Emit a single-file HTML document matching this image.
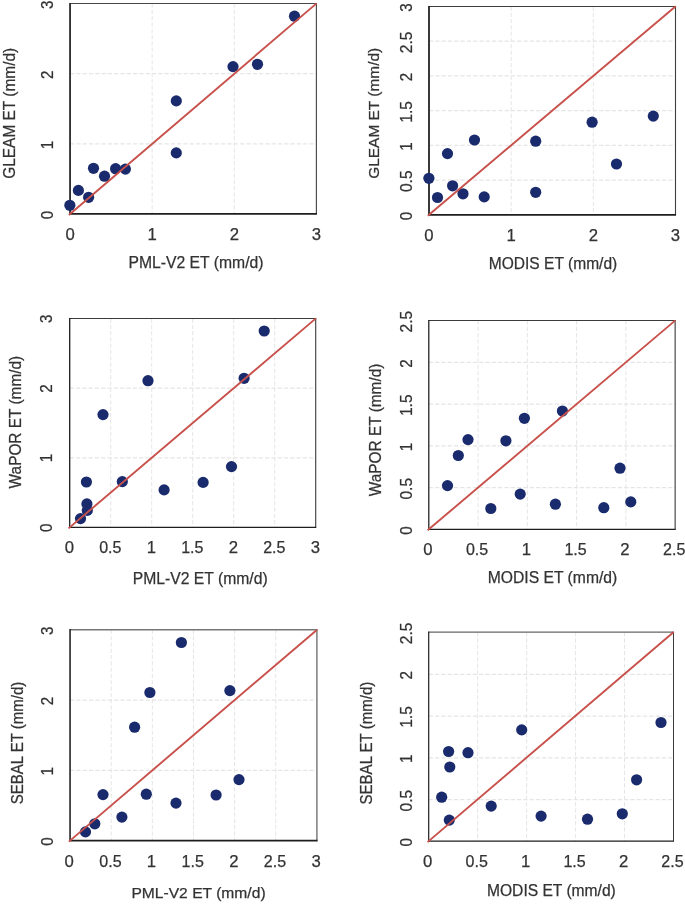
<!DOCTYPE html>
<html lang="en"><head><meta charset="utf-8"><title>ET scatter comparison</title>
<style>
html,body{margin:0;padding:0;background:#fff}
body{width:685px;height:905px;overflow:hidden}
svg{display:block}
text{font-family:"Liberation Sans",Arial,sans-serif;fill:#333;stroke:#333;stroke-width:0.25}
.t{font-size:16.7px}
.g{stroke:#e5e5e5;stroke-width:1;stroke-dasharray:4.2 2.1;fill:none}
.h{stroke-width:1.25}
.d{stroke:#c8504b;stroke-width:1.9;stroke-linecap:butt}
.p{fill:#1a2b6d}
</style></head><body>
<svg width="685" height="905" viewBox="0 0 685 905">
<rect width="685" height="905" fill="#fff"/>
<g id="plot1">
<line class="g" x1="152.17" y1="3.5" x2="152.17" y2="213.95"/>
<line class="g" x1="234.28" y1="3.5" x2="234.28" y2="213.95"/>
<line class="g h" x1="70.05" y1="143.8" x2="316.4" y2="143.8"/>
<line class="g h" x1="70.05" y1="73.65" x2="316.4" y2="73.65"/>
<line x1="70.05" y1="3.5" x2="316.97" y2="3.5" stroke="#484848" stroke-width="1.15"/>
<line x1="316.4" y1="3.5" x2="316.4" y2="213.95" stroke="#484848" stroke-width="1.15"/>
<path d="M70.05 2.92V213.95H316.97" fill="none" stroke="#1e1e1e" stroke-width="1.7" stroke-linejoin="miter"/>
<circle class="p" cx="69.85" cy="205.3" r="5.6"/>
<circle class="p" cx="78.4" cy="190.4" r="5.6"/>
<circle class="p" cx="88.6" cy="197.3" r="5.6"/>
<circle class="p" cx="93.5" cy="168.3" r="5.6"/>
<circle class="p" cx="104.5" cy="176.2" r="5.6"/>
<circle class="p" cx="115.6" cy="168.7" r="5.6"/>
<circle class="p" cx="125.4" cy="169.1" r="5.6"/>
<circle class="p" cx="176.3" cy="100.9" r="5.6"/>
<circle class="p" cx="176.3" cy="152.9" r="5.6"/>
<circle class="p" cx="233" cy="66.6" r="5.6"/>
<circle class="p" cx="257.5" cy="64.3" r="5.6"/>
<circle class="p" cx="294.5" cy="16.2" r="5.6"/>
<line class="d" x1="68.85" y1="214.95" x2="316.6" y2="3.4"/>
<text class="t" x="65.41" y="239.9" textLength="9.29" lengthAdjust="spacingAndGlyphs">0</text>
<text class="t" x="147.52" y="239.9" textLength="9.29" lengthAdjust="spacingAndGlyphs">1</text>
<text class="t" x="229.64" y="239.9" textLength="9.29" lengthAdjust="spacingAndGlyphs">2</text>
<text class="t" x="311.75" y="239.9" textLength="9.29" lengthAdjust="spacingAndGlyphs">3</text>
<text class="t" transform="translate(53 215.15) rotate(-90)" x="-4.2" textLength="8.4" lengthAdjust="spacingAndGlyphs">0</text>
<text class="t" transform="translate(53 145) rotate(-90)" x="-4.2" textLength="8.4" lengthAdjust="spacingAndGlyphs">1</text>
<text class="t" transform="translate(53 74.85) rotate(-90)" x="-4.2" textLength="8.4" lengthAdjust="spacingAndGlyphs">2</text>
<text class="t" transform="translate(53 4.7) rotate(-90)" x="-4.2" textLength="8.4" lengthAdjust="spacingAndGlyphs">3</text>
<text x="128.5" y="268" font-size="16.0" textLength="135" lengthAdjust="spacingAndGlyphs">PML-V2 ET (mm/d)</text>
<text transform="translate(14.6 113.3) rotate(-90)" x="-65.5" font-size="16.2" textLength="131" lengthAdjust="spacingAndGlyphs">GLEAM ET (mm/d)</text>
</g>
<g id="plot2">
<line class="g" x1="511.17" y1="6.45" x2="511.17" y2="214.8"/>
<line class="g" x1="593.33" y1="6.45" x2="593.33" y2="214.8"/>
<line class="g h" x1="429" y1="180.08" x2="675.5" y2="180.08"/>
<line class="g h" x1="429" y1="145.35" x2="675.5" y2="145.35"/>
<line class="g h" x1="429" y1="110.62" x2="675.5" y2="110.62"/>
<line class="g h" x1="429" y1="75.9" x2="675.5" y2="75.9"/>
<line class="g h" x1="429" y1="41.18" x2="675.5" y2="41.18"/>
<line x1="429" y1="6.45" x2="676.05" y2="6.45" stroke="#3e3e3e" stroke-width="1.1"/>
<line x1="675.5" y1="6.45" x2="675.5" y2="214.8" stroke="#3e3e3e" stroke-width="1.1"/>
<path d="M429 5.9V214.8H676.05" fill="none" stroke="#1e1e1e" stroke-width="1.75" stroke-linejoin="miter"/>
<circle class="p" cx="428.9" cy="178.3" r="5.6"/>
<circle class="p" cx="437.5" cy="197.5" r="5.6"/>
<circle class="p" cx="447.5" cy="153.6" r="5.6"/>
<circle class="p" cx="452.6" cy="185.8" r="5.6"/>
<circle class="p" cx="463" cy="193.8" r="5.6"/>
<circle class="p" cx="474.5" cy="140" r="5.6"/>
<circle class="p" cx="484.2" cy="196.9" r="5.6"/>
<circle class="p" cx="535.7" cy="141.2" r="5.6"/>
<circle class="p" cx="535.7" cy="192.3" r="5.6"/>
<circle class="p" cx="592.1" cy="122.2" r="5.6"/>
<circle class="p" cx="616.5" cy="164" r="5.6"/>
<circle class="p" cx="653.3" cy="116.1" r="5.6"/>
<line class="d" x1="427.8" y1="215.8" x2="675.7" y2="6.35"/>
<text class="t" x="424.36" y="240.8" textLength="9.29" lengthAdjust="spacingAndGlyphs">0</text>
<text class="t" x="506.52" y="240.8" textLength="9.29" lengthAdjust="spacingAndGlyphs">1</text>
<text class="t" x="588.69" y="240.8" textLength="9.29" lengthAdjust="spacingAndGlyphs">2</text>
<text class="t" x="670.86" y="240.8" textLength="9.29" lengthAdjust="spacingAndGlyphs">3</text>
<text class="t" transform="translate(412.4 216) rotate(-90)" x="-4.2" textLength="8.4" lengthAdjust="spacingAndGlyphs">0</text>
<text class="t" transform="translate(412.4 181.28) rotate(-90)" x="-10.8" textLength="21.6" lengthAdjust="spacingAndGlyphs">0.5</text>
<text class="t" transform="translate(412.4 146.55) rotate(-90)" x="-4.2" textLength="8.4" lengthAdjust="spacingAndGlyphs">1</text>
<text class="t" transform="translate(412.4 111.83) rotate(-90)" x="-10.8" textLength="21.6" lengthAdjust="spacingAndGlyphs">1.5</text>
<text class="t" transform="translate(412.4 77.1) rotate(-90)" x="-4.2" textLength="8.4" lengthAdjust="spacingAndGlyphs">2</text>
<text class="t" transform="translate(412.4 42.38) rotate(-90)" x="-10.8" textLength="21.6" lengthAdjust="spacingAndGlyphs">2.5</text>
<text class="t" transform="translate(412.4 7.65) rotate(-90)" x="-4.2" textLength="8.4" lengthAdjust="spacingAndGlyphs">3</text>
<text x="488.75" y="268.9" font-size="16.2" textLength="128.5" lengthAdjust="spacingAndGlyphs">MODIS ET (mm/d)</text>
<text transform="translate(379.3 113.3) rotate(-90)" x="-65.5" font-size="15.0" textLength="131" lengthAdjust="spacingAndGlyphs">GLEAM ET (mm/d)</text>
</g>
<g id="plot3">
<line class="g" x1="110.7" y1="318.5" x2="110.7" y2="527.4"/>
<line class="g" x1="151.7" y1="318.5" x2="151.7" y2="527.4"/>
<line class="g" x1="192.7" y1="318.5" x2="192.7" y2="527.4"/>
<line class="g" x1="233.7" y1="318.5" x2="233.7" y2="527.4"/>
<line class="g" x1="274.7" y1="318.5" x2="274.7" y2="527.4"/>
<line class="g h" x1="69.7" y1="457.77" x2="315.7" y2="457.77"/>
<line class="g h" x1="69.7" y1="388.13" x2="315.7" y2="388.13"/>
<line x1="69.7" y1="318.5" x2="316.25" y2="318.5" stroke="#3a3a3a" stroke-width="1.1"/>
<line x1="315.7" y1="318.5" x2="315.7" y2="527.4" stroke="#3a3a3a" stroke-width="1.1"/>
<path d="M69.7 317.95V527.4H316.25" fill="none" stroke="#1e1e1e" stroke-width="1.3" stroke-linejoin="miter"/>
<circle class="p" cx="80.5" cy="518.6" r="5.6"/>
<circle class="p" cx="87.3" cy="510.4" r="5.6"/>
<circle class="p" cx="86.9" cy="503.9" r="5.6"/>
<circle class="p" cx="86.4" cy="482" r="5.6"/>
<circle class="p" cx="122.3" cy="481.6" r="5.6"/>
<circle class="p" cx="103" cy="414.6" r="5.6"/>
<circle class="p" cx="148" cy="380.7" r="5.6"/>
<circle class="p" cx="164.1" cy="489.9" r="5.6"/>
<circle class="p" cx="203.1" cy="482.4" r="5.6"/>
<circle class="p" cx="231.5" cy="466.6" r="5.6"/>
<circle class="p" cx="244.1" cy="378.3" r="5.6"/>
<circle class="p" cx="264.2" cy="331" r="5.6"/>
<line class="d" x1="68.5" y1="528.4" x2="315.9" y2="318.4"/>
<text class="t" x="64.66" y="553" textLength="9.29" lengthAdjust="spacingAndGlyphs">0</text>
<text class="t" x="99.15" y="553" textLength="22.3" lengthAdjust="spacingAndGlyphs">0.5</text>
<text class="t" x="146.65" y="553" textLength="9.29" lengthAdjust="spacingAndGlyphs">1</text>
<text class="t" x="181.15" y="553" textLength="22.3" lengthAdjust="spacingAndGlyphs">1.5</text>
<text class="t" x="228.65" y="553" textLength="9.29" lengthAdjust="spacingAndGlyphs">2</text>
<text class="t" x="263.15" y="553" textLength="22.3" lengthAdjust="spacingAndGlyphs">2.5</text>
<text class="t" x="310.66" y="553" textLength="9.29" lengthAdjust="spacingAndGlyphs">3</text>
<text class="t" transform="translate(52.4 527.8) rotate(-90)" x="-4.2" textLength="8.4" lengthAdjust="spacingAndGlyphs">0</text>
<text class="t" transform="translate(52.4 458.17) rotate(-90)" x="-4.2" textLength="8.4" lengthAdjust="spacingAndGlyphs">1</text>
<text class="t" transform="translate(52.4 388.53) rotate(-90)" x="-4.2" textLength="8.4" lengthAdjust="spacingAndGlyphs">2</text>
<text class="t" transform="translate(52.4 318.9) rotate(-90)" x="-4.2" textLength="8.4" lengthAdjust="spacingAndGlyphs">3</text>
<text x="132.7" y="583.8" font-size="16.6" textLength="135" lengthAdjust="spacingAndGlyphs">PML-V2 ET (mm/d)</text>
<text transform="translate(20.6 422.1) rotate(-90)" x="-66.3" font-size="16.2" textLength="132.6" lengthAdjust="spacingAndGlyphs">WaPOR ET (mm/d)</text>
</g>
<g id="plot4">
<line class="g" x1="478.07" y1="320.5" x2="478.07" y2="529.3"/>
<line class="g" x1="527.34" y1="320.5" x2="527.34" y2="529.3"/>
<line class="g" x1="576.61" y1="320.5" x2="576.61" y2="529.3"/>
<line class="g" x1="625.88" y1="320.5" x2="625.88" y2="529.3"/>
<line class="g h" x1="428.8" y1="487.54" x2="675.15" y2="487.54"/>
<line class="g h" x1="428.8" y1="445.78" x2="675.15" y2="445.78"/>
<line class="g h" x1="428.8" y1="404.02" x2="675.15" y2="404.02"/>
<line class="g h" x1="428.8" y1="362.26" x2="675.15" y2="362.26"/>
<line x1="428.8" y1="320.5" x2="675.7" y2="320.5" stroke="#3a3a3a" stroke-width="1.1"/>
<line x1="675.15" y1="320.5" x2="675.15" y2="529.3" stroke="#3a3a3a" stroke-width="1.1"/>
<path d="M428.8 319.95V529.3H675.7" fill="none" stroke="#1e1e1e" stroke-width="1.25" stroke-linejoin="miter"/>
<circle class="p" cx="447.5" cy="485.6" r="5.6"/>
<circle class="p" cx="458.3" cy="455.5" r="5.6"/>
<circle class="p" cx="468" cy="439.6" r="5.6"/>
<circle class="p" cx="490.8" cy="508.5" r="5.6"/>
<circle class="p" cx="505.9" cy="440.8" r="5.6"/>
<circle class="p" cx="520.2" cy="494.1" r="5.6"/>
<circle class="p" cx="524.4" cy="418.3" r="5.6"/>
<circle class="p" cx="555.4" cy="504.2" r="5.6"/>
<circle class="p" cx="562.4" cy="411" r="5.6"/>
<circle class="p" cx="603.8" cy="507.7" r="5.6"/>
<circle class="p" cx="620" cy="468.2" r="5.6"/>
<circle class="p" cx="630.8" cy="501.9" r="5.6"/>
<line class="d" x1="427.6" y1="530.3" x2="675.35" y2="320.4"/>
<text class="t" x="423.16" y="555.2" textLength="9.29" lengthAdjust="spacingAndGlyphs">0</text>
<text class="t" x="465.92" y="555.2" textLength="22.3" lengthAdjust="spacingAndGlyphs">0.5</text>
<text class="t" x="521.7" y="555.2" textLength="9.29" lengthAdjust="spacingAndGlyphs">1</text>
<text class="t" x="564.46" y="555.2" textLength="22.3" lengthAdjust="spacingAndGlyphs">1.5</text>
<text class="t" x="620.24" y="555.2" textLength="9.29" lengthAdjust="spacingAndGlyphs">2</text>
<text class="t" x="663" y="555.2" textLength="22.3" lengthAdjust="spacingAndGlyphs">2.5</text>
<text class="t" transform="translate(412.4 530.5) rotate(-90)" x="-4.2" textLength="8.4" lengthAdjust="spacingAndGlyphs">0</text>
<text class="t" transform="translate(412.4 488.74) rotate(-90)" x="-10.8" textLength="21.6" lengthAdjust="spacingAndGlyphs">0.5</text>
<text class="t" transform="translate(412.4 446.98) rotate(-90)" x="-4.2" textLength="8.4" lengthAdjust="spacingAndGlyphs">1</text>
<text class="t" transform="translate(412.4 405.22) rotate(-90)" x="-10.8" textLength="21.6" lengthAdjust="spacingAndGlyphs">1.5</text>
<text class="t" transform="translate(412.4 363.46) rotate(-90)" x="-4.2" textLength="8.4" lengthAdjust="spacingAndGlyphs">2</text>
<text class="t" transform="translate(412.4 321.7) rotate(-90)" x="-10.8" textLength="21.6" lengthAdjust="spacingAndGlyphs">2.5</text>
<text x="487.75" y="583.3" font-size="16.0" textLength="129.5" lengthAdjust="spacingAndGlyphs">MODIS ET (mm/d)</text>
<text transform="translate(380.6 429.9) rotate(-90)" x="-66.3" font-size="16.2" textLength="132.6" lengthAdjust="spacingAndGlyphs">WaPOR ET (mm/d)</text>
</g>
<g id="plot5">
<line class="g" x1="111.2" y1="629.8" x2="111.2" y2="840.6"/>
<line class="g" x1="152.34" y1="629.8" x2="152.34" y2="840.6"/>
<line class="g" x1="193.48" y1="629.8" x2="193.48" y2="840.6"/>
<line class="g" x1="234.62" y1="629.8" x2="234.62" y2="840.6"/>
<line class="g" x1="275.76" y1="629.8" x2="275.76" y2="840.6"/>
<line class="g h" x1="70.06" y1="770.33" x2="316.9" y2="770.33"/>
<line class="g h" x1="70.06" y1="700.07" x2="316.9" y2="700.07"/>
<line x1="70.06" y1="629.8" x2="317.62" y2="629.8" stroke="#777" stroke-width="1.45"/>
<line x1="316.9" y1="629.8" x2="316.9" y2="840.6" stroke="#777" stroke-width="1.45"/>
<path d="M70.06 629.07V840.6H317.62" fill="none" stroke="#1e1e1e" stroke-width="1.55" stroke-linejoin="miter"/>
<circle class="p" cx="85.5" cy="831.9" r="5.6"/>
<circle class="p" cx="94.8" cy="823.8" r="5.6"/>
<circle class="p" cx="103" cy="794.6" r="5.6"/>
<circle class="p" cx="121.9" cy="817.1" r="5.6"/>
<circle class="p" cx="146.3" cy="794.2" r="5.6"/>
<circle class="p" cx="134.6" cy="727.2" r="5.6"/>
<circle class="p" cx="149.9" cy="692.5" r="5.6"/>
<circle class="p" cx="176" cy="803.1" r="5.6"/>
<circle class="p" cx="181.4" cy="642.5" r="5.6"/>
<circle class="p" cx="216.1" cy="795" r="5.6"/>
<circle class="p" cx="229.9" cy="690.6" r="5.6"/>
<circle class="p" cx="239" cy="779.6" r="5.6"/>
<line class="d" x1="68.86" y1="841.6" x2="317.1" y2="629.7"/>
<text class="t" x="64.62" y="866.5" textLength="9.29" lengthAdjust="spacingAndGlyphs">0</text>
<text class="t" x="99.25" y="866.5" textLength="22.3" lengthAdjust="spacingAndGlyphs">0.5</text>
<text class="t" x="146.89" y="866.5" textLength="9.29" lengthAdjust="spacingAndGlyphs">1</text>
<text class="t" x="181.53" y="866.5" textLength="22.3" lengthAdjust="spacingAndGlyphs">1.5</text>
<text class="t" x="229.17" y="866.5" textLength="9.29" lengthAdjust="spacingAndGlyphs">2</text>
<text class="t" x="263.81" y="866.5" textLength="22.3" lengthAdjust="spacingAndGlyphs">2.5</text>
<text class="t" x="311.45" y="866.5" textLength="9.29" lengthAdjust="spacingAndGlyphs">3</text>
<text class="t" transform="translate(52.8 841.6) rotate(-90)" x="-4.2" textLength="8.4" lengthAdjust="spacingAndGlyphs">0</text>
<text class="t" transform="translate(52.8 771.33) rotate(-90)" x="-4.2" textLength="8.4" lengthAdjust="spacingAndGlyphs">1</text>
<text class="t" transform="translate(52.8 701.07) rotate(-90)" x="-4.2" textLength="8.4" lengthAdjust="spacingAndGlyphs">2</text>
<text class="t" transform="translate(52.8 630.8) rotate(-90)" x="-4.2" textLength="8.4" lengthAdjust="spacingAndGlyphs">3</text>
<text x="131.4" y="898.2" font-size="15.4" textLength="134.2" lengthAdjust="spacingAndGlyphs">PML-V2 ET (mm/d)</text>
<text transform="translate(22.9 743) rotate(-90)" x="-61.35" font-size="15.7" textLength="122.7" lengthAdjust="spacingAndGlyphs">SEBAL ET (mm/d)</text>
</g>
<g id="plot6">
<line class="g" x1="477.66" y1="632.1" x2="477.66" y2="841.1"/>
<line class="g" x1="526.62" y1="632.1" x2="526.62" y2="841.1"/>
<line class="g" x1="575.58" y1="632.1" x2="575.58" y2="841.1"/>
<line class="g" x1="624.54" y1="632.1" x2="624.54" y2="841.1"/>
<line class="g h" x1="428.7" y1="799.7" x2="673.5" y2="799.7"/>
<line class="g h" x1="428.7" y1="757.9" x2="673.5" y2="757.9"/>
<line class="g h" x1="428.7" y1="716.1" x2="673.5" y2="716.1"/>
<line class="g h" x1="428.7" y1="674.3" x2="673.5" y2="674.3"/>
<line x1="428.7" y1="632.1" x2="674" y2="632.1" stroke="#666" stroke-width="1.3"/>
<line x1="673.5" y1="632.1" x2="673.5" y2="841.1" stroke="#3a3a3a" stroke-width="1.0"/>
<path d="M428.7 631.45V841.1H674" fill="none" stroke="#1e1e1e" stroke-width="1.2" stroke-linejoin="miter"/>
<circle class="p" cx="441.7" cy="797.2" r="5.6"/>
<circle class="p" cx="449.3" cy="820.1" r="5.6"/>
<circle class="p" cx="449.8" cy="767" r="5.6"/>
<circle class="p" cx="448.6" cy="751.5" r="5.6"/>
<circle class="p" cx="468" cy="752.7" r="5.6"/>
<circle class="p" cx="491.2" cy="806.1" r="5.6"/>
<circle class="p" cx="521.7" cy="729.9" r="5.6"/>
<circle class="p" cx="541.1" cy="816.1" r="5.6"/>
<circle class="p" cx="587.5" cy="819.2" r="5.6"/>
<circle class="p" cx="622.3" cy="813.8" r="5.6"/>
<circle class="p" cx="636.6" cy="779.8" r="5.6"/>
<circle class="p" cx="661" cy="722.5" r="5.6"/>
<line class="d" x1="427.5" y1="842.1" x2="673.7" y2="632"/>
<text class="t" x="423.06" y="866.9" textLength="9.29" lengthAdjust="spacingAndGlyphs">0</text>
<text class="t" x="465.51" y="866.9" textLength="22.3" lengthAdjust="spacingAndGlyphs">0.5</text>
<text class="t" x="520.98" y="866.9" textLength="9.29" lengthAdjust="spacingAndGlyphs">1</text>
<text class="t" x="563.43" y="866.9" textLength="22.3" lengthAdjust="spacingAndGlyphs">1.5</text>
<text class="t" x="618.89" y="866.9" textLength="9.29" lengthAdjust="spacingAndGlyphs">2</text>
<text class="t" x="661.35" y="866.9" textLength="22.3" lengthAdjust="spacingAndGlyphs">2.5</text>
<text class="t" transform="translate(411.9 842.4) rotate(-90)" x="-4.2" textLength="8.4" lengthAdjust="spacingAndGlyphs">0</text>
<text class="t" transform="translate(411.9 800.6) rotate(-90)" x="-10.8" textLength="21.6" lengthAdjust="spacingAndGlyphs">0.5</text>
<text class="t" transform="translate(411.9 758.8) rotate(-90)" x="-4.2" textLength="8.4" lengthAdjust="spacingAndGlyphs">1</text>
<text class="t" transform="translate(411.9 717) rotate(-90)" x="-10.8" textLength="21.6" lengthAdjust="spacingAndGlyphs">1.5</text>
<text class="t" transform="translate(411.9 675.2) rotate(-90)" x="-4.2" textLength="8.4" lengthAdjust="spacingAndGlyphs">2</text>
<text class="t" transform="translate(411.9 633.4) rotate(-90)" x="-10.8" textLength="21.6" lengthAdjust="spacingAndGlyphs">2.5</text>
<text x="487" y="895.5" font-size="16.0" textLength="128.8" lengthAdjust="spacingAndGlyphs">MODIS ET (mm/d)</text>
<text transform="translate(371.5 743.1) rotate(-90)" x="-61.35" font-size="15.9" textLength="122.7" lengthAdjust="spacingAndGlyphs">SEBAL ET (mm/d)</text>
</g>
</svg>
</body></html>
